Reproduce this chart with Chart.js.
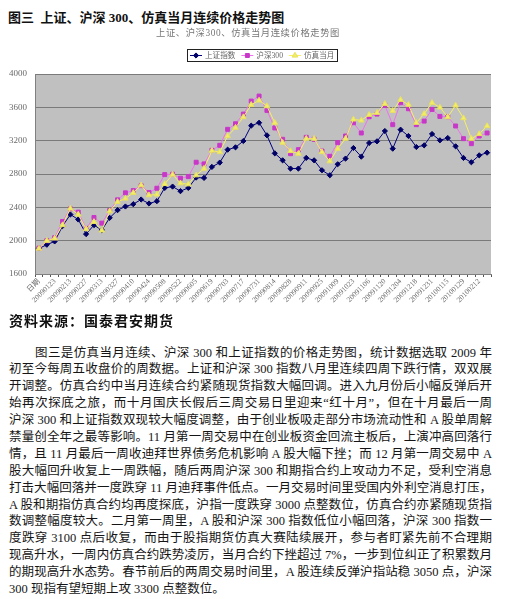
<!DOCTYPE html>
<html>
<head>
<meta charset="utf-8">
<script src="https://cdn.jsdelivr.net/npm/chart.js@4.4.1/dist/chart.umd.min.js"></script>
<style>
  html,body{margin:0;padding:0;background:#fff;}
  body{width:507px;height:599px;position:relative;overflow:hidden;}
  #fig{position:absolute;left:0;top:0;}
  .t1{position:absolute;left:8px;top:9px;font:bold 13px/18px "Liberation Serif","Noto Sans CJK SC";color:#111;white-space:nowrap;}
  .t2{position:absolute;left:0;top:27px;width:496px;text-align:center;font:9.3px/12px "Liberation Serif","Noto Sans CJK SC";color:#777;letter-spacing:0.6px;white-space:nowrap;}
  .src{position:absolute;left:9px;top:313px;font:bold 14px/18px "Liberation Serif","Noto Sans CJK SC";color:#111;white-space:nowrap;letter-spacing:1px;}
  .body{position:absolute;left:9px;top:344.5px;width:483px;font:12.5px/16.9px "Liberation Serif","Noto Sans CJK SC";color:#151515;}
  .body div{text-align:justify;text-align-last:justify;height:16.9px;}
  .body div.first{text-indent:26px;}
  .body div.last{text-align-last:left;}
</style>
</head>
<body>
<div class="t1">图三&nbsp;&nbsp;上证、沪深 300、仿真当月连续价格走势图</div>
<canvas id="fig" width="507" height="315"></canvas>
<div class="t2">上证、沪深300、仿真当月连续价格走势图</div>
<div class="src">资料来源：国泰君安期货</div>
<div class="body">
<div class="first">图三是仿真当月连续、沪深 300 和上证指数的价格走势图，统计数据选取 2009 年</div>
<div>初至今每周五收盘价的周数据。上证和沪深 300 指数八月里连续四周下跌行情，双双展</div>
<div>开调整。仿真合约中当月连续合约紧随现货指数大幅回调。进入九月份后小幅反弹后开</div>
<div>始再次探底之旅，而十月国庆长假后三周交易日里迎来“红十月”，但在十月最后一周</div>
<div>沪深 300 和上证指数双现较大幅度调整，由于创业板吸走部分市场流动性和 A 股单周解</div>
<div>禁量创全年之最等影响。11 月第一周交易中在创业板资金回流主板后，上演冲高回落行</div>
<div>情，且 11 月最后一周收迪拜世界债务危机影响 A 股大幅下挫；而 12 月第一周交易中 A</div>
<div>股大幅回升收复上一周跌幅，随后两周沪深 300 和期指合约上攻动力不足，受利空消息</div>
<div>打击大幅回落并一度跌穿 11 月迪拜事件低点。一月交易时间里受国内外利空消息打压，</div>
<div>A 股和期指仿真合约均再度探底，沪指一度跌穿 3000 点整数位，仿真合约亦紧随现货指</div>
<div>数调整幅度较大。二月第一周里，A 股和沪深 300 指数低位小幅回落，沪深 300 指数一</div>
<div>度跌穿 3100 点后收复，而由于股指期货仿真大赛陆续展开，参与者盯紧先前不合理期</div>
<div>现高升水，一周内仿真合约跌势凌厉，当月合约下挫超过 7%，一步到位纠正了积累数月</div>
<div>的期现高升水态势。春节前后的两周交易时间里，A 股连续反弹沪指站稳 3050 点，沪深</div>
<div class="last">300 现指有望短期上攻 3300 点整数位。</div>
</div>
<script>
// ---- data ----
const categories = ['日期','20090116','20090123','20090206','20090213','20090220','20090227','20090306','20090313','20090320',
  '20090327','20090403','20090410','20090417','20090424','20090430','20090508','20090515','20090522','20090527',
  '20090605','20090612','20090619','20090626','20090703','20090710','20090717','20090724','20090731','20090807',
  '20090814','20090821','20090828','20090904','20090911','20090918','20090925','20090930','20091009','20091016',
  '20091023','20091030','20091106','20091113','20091120','20091127','20091204','20091211','20091218','20091225',
  '20091231','20100108','20100115','20100122','20100129','20100205','20100212','20100226'];
const seriesNames = ['上证指数','沪深300','仿真当月'];
const shIndex = [1907,1951,1991,2175,2314,2254,2079,2187,2127,2274,
  2366,2410,2438,2494,2446,2474,2633,2649,2594,2633,
  2757,2753,2885,2937,3092,3120,3196,3380,3415,3264,
  3048,2964,2865,2865,2993,2964,2845,2785,2917,2985,
  3112,3008,3172,3192,3316,3104,3332,3256,3124,3144,
  3280,3204,3232,3132,2993,2941,3024,3056];
const hs300 = [1910,2000,2035,2230,2382,2342,2147,2278,2210,2362,
  2490,2574,2601,2660,2578,2629,2793,2797,2749,2769,
  2941,2921,3084,3144,3336,3403,3519,3675,3735,3563,
  3352,3216,3044,3092,3240,3216,3076,3012,3176,3256,
  3415,3292,3487,3519,3623,3392,3655,3583,3392,3435,
  3575,3491,3487,3376,3224,3164,3256,3292];
const simMonth = [1905,1999,2027,2187,2386,2314,2139,2226,2123,2354,
  2466,2506,2574,2665,2546,2554,2681,2793,2689,2677,
  2785,2865,3080,3064,3256,3356,3483,3631,3683,3615,
  3415,3176,3076,3044,3224,3224,3064,2953,3104,3224,
  3455,3443,3511,3535,3643,3559,3691,3631,3415,3523,
  3655,3599,3483,3623,3471,3224,3280,3376];
const yMin = 1600, yMax = 4000, yStep = 400;

// ---- chart ----
const FONT = "'Liberation Serif','Noto Sans CJK SC'";

const plotBg = {
  id: 'plotBg',
  beforeDraw(chart) {
    const {ctx, chartArea: a} = chart;
    ctx.save();
    ctx.fillStyle = '#c0c0c0';
    ctx.fillRect(a.left, a.top, a.right - a.left, a.bottom - a.top);
    ctx.restore();
  }
};

const boxLegend = {
  id: 'boxLegend',
  afterDraw(chart) {
    const ctx = chart.ctx;
    ctx.save();
    ctx.font = "7.6px " + FONT;
    ctx.textBaseline = 'middle';
    const cy = 55.5, lineLen = 12, gapT = 3, gapI = 6, padL = 3, padR = 3;
    const dss = chart.data.datasets;
    let total = padL + padR;
    dss.forEach((ds, i) => { total += lineLen + gapT + ctx.measureText(ds.label).width + (i < dss.length - 1 ? gapI : 0); });
    const centerX = 262;
    const startX = Math.round(centerX - total / 2);
    let x = startX + padL;
    dss.forEach(ds => {
      ctx.strokeStyle = ds.borderColor;
      ctx.lineWidth = 1;
      ctx.beginPath(); ctx.moveTo(x, cy); ctx.lineTo(x + lineLen, cy); ctx.stroke();
      ctx.fillStyle = ds.pointBackgroundColor; ctx.strokeStyle = ds.pointBorderColor;
      Chart.helpers.drawPoint(ctx, {pointStyle: ds.pointStyle, radius: ds.pointRadius, rotation: 0, borderWidth: 1}, x + lineLen / 2, cy);
      ctx.fillStyle = '#666';
      ctx.fillText(ds.label, x + lineLen + gapT, cy + 0.5);
      x += lineLen + gapT + ctx.measureText(ds.label).width + gapI;
    });
    ctx.strokeStyle = '#222';
    ctx.lineWidth = 1;
    ctx.strokeRect(startX + 0.5, 49.5, Math.round(total), 12);
    ctx.restore();
  }
};

new Chart(document.getElementById('fig'), {
  type: 'line',
  data: {
    labels: categories,
    datasets: [
      { label: seriesNames[0], data: shIndex, borderColor: '#000080', backgroundColor: '#000066',
        pointStyle: 'rectRot', pointRadius: 2.6, pointBackgroundColor: '#000066', pointBorderColor: '#000066',
        borderWidth: 1, tension: 0, order: 2 },
      { label: seriesNames[1], data: hs300, borderColor: '#f070f0', backgroundColor: '#cc33cc',
        pointStyle: 'rect', pointRadius: 2.8, pointBackgroundColor: '#c838c8', pointBorderColor: '#c838c8',
        borderWidth: 1, tension: 0, order: 1 },
      { label: seriesNames[2], data: simMonth, borderColor: '#f8f060', backgroundColor: '#f0ec60',
        pointStyle: 'triangle', pointRadius: 3.2, pointBackgroundColor: '#f2ee66', pointBorderColor: '#e8e060',
        borderWidth: 1, tension: 0, order: 0 }
    ]
  },
  options: {
    responsive: false,
    animation: false,
    events: [],
    layout: { padding: { top: 74, right: 16, left: 0, bottom: 0 } },
    plugins: { legend: { display: false }, title: { display: false }, tooltip: { enabled: false } },
    scales: {
      x: {
        type: 'category',
        offset: true,
        grid: { offset: true, drawOnChartArea: false, drawTicks: true, tickLength: 3, color: '#555' },
        border: { color: '#808080' },
        ticks: {
          autoSkip: false, maxRotation: 45, minRotation: 45, padding: 0,
          color: '#6a6a6a', font: { size: 7.5, family: FONT },
          callback: (v, i) => (i % 2 === 0 ? categories[i] : '')
        },
        afterFit(s) { s.height = 41; }
      },
      y: {
        min: yMin, max: yMax,
        ticks: { stepSize: yStep, color: '#6a6a6a', padding: 8, font: { size: 9, family: FONT },
          callback: v => String(v) },
        grid: { color: '#7a7a7a', drawTicks: false },
        border: { color: '#808080' },
        afterFit(s) { s.width = 35; }
      }
    }
  },
  plugins: [plotBg, boxLegend]
});
</script>
</body>
</html>
